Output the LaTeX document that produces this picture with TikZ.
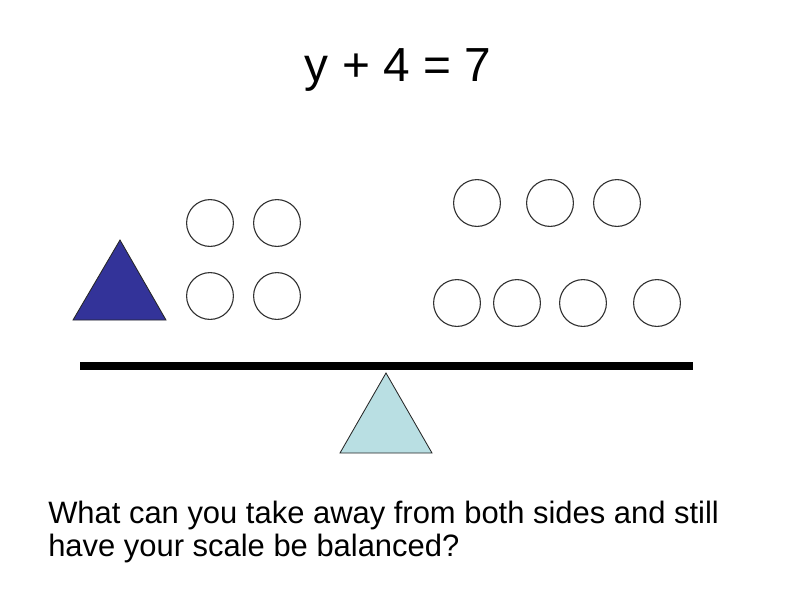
\documentclass[tikz,border=0pt]{standalone}
\usepackage{fontspec}
\setmainfont{Liberation Sans}
\definecolor{weightblue}{HTML}{333399}
\definecolor{pivotcyan}{HTML}{B9DFE3}
\tikzset{
  unit/.style={draw=black!80, line width=0.8pt, circle, minimum size=1.17cm, inner sep=0pt},
  tri/.style={draw=black!85, line width=0.6pt, line join=miter}
}
\begin{document}
\begin{tikzpicture}[x=0.025cm,y=-0.025cm]
\useasboundingbox (0,0) rectangle (800,601);

\node (eq) at (398,70) {\fontsize{34}{40}\selectfont y + 4 = 7};

% left pan: the y weight and four units
\coordinate (ytop) at (120,240);
\draw[tri, fill=weightblue] (ytop) -- (73,320) -- (166,320) -- cycle;
\foreach \x/\y/\n in {210/223/a, 277/223/b, 210/296/c, 277/296/d}
  \node[unit] (l\n) at (\x,\y) {};

% right pan: seven units
\foreach \x/\n in {477/a, 550/b, 617/c}
  \node[unit] (rt\n) at (\x,203) {};
\foreach \x/\n in {457/a, 517/b, 583/c, 657/d}
  \node[unit] (rb\n) at (\x,303) {};

% beam and pivot
\draw[line width=5pt] (80,366) -- (693,366);
\coordinate (pivot) at (386,373);
\draw[tri, fill=pivotcyan] (pivot) -- (340,453) -- (432,453) -- cycle;

\node[anchor=base west, align=left, inner sep=0pt,
      font=\fontsize{22}{23.4}\selectfont] (question) at (48,556)
  {What can you take away from both sides and still\\
   have your scale be balanced?};
\end{tikzpicture}
\end{document}
